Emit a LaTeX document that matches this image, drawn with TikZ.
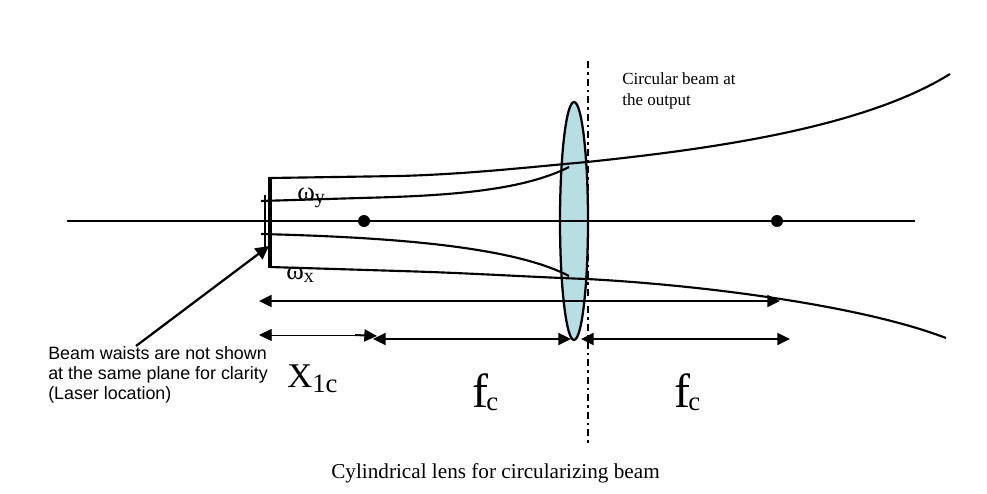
\documentclass[tikz,border=0pt]{standalone}
\usepackage{fontspec}
\setmainfont{Liberation Serif}
\newfontfamily\notefont{Liberation Sans}
\usetikzlibrary{arrows.meta,shapes.geometric}
\definecolor{lensfill}{HTML}{B7DEE3}
\tikzset{
  x=0.75pt,y=-0.75pt,
  ray/.style={line width=1.6pt,black},
  axisline/.style={line width=1.5pt,black},
  dim/.style={line width=1.5pt,{Triangle[length=9.5pt,width=9pt]}-{Triangle[length=9.5pt,width=9pt]}},
  focus/.style={circle,fill=black,inner sep=0pt,minimum size=9pt},
  lbl/.style={inner sep=0pt,anchor=base west},
  bignote/.style={lbl,font=\fontsize{36}{38}\selectfont},
  small/.style={lbl,font=\fontsize{12.75}{14}\selectfont},
  note/.style={lbl,font=\notefont\fontsize{13.4}{15}\selectfont},
  omega/.style={lbl,font=\fontsize{20}{22}\selectfont,text=black}
}
\newcommand{\lowsub}[3]{{\fontsize{#1}{#1}\selectfont\raisebox{-#2}{#3}}}
\begin{document}
\begin{tikzpicture}
\useasboundingbox (0,0) rectangle (987,493);
% axis
\coordinate (axL) at (67,221);
\coordinate (axR) at (915,221);
\draw[axisline] (axL) -- (axR);
\node[focus] (f1) at (364,221) {};
\node[focus] (f2) at (777,221) {};
% lens
\node[draw=black,fill=lensfill,line width=1.7pt,ellipse,minimum width=21pt,minimum height=178.5pt,inner sep=0pt] (lens) at (574,221) {};
\draw[axisline] (560,221) -- (588,221);
% dash-dot plane
\coordinate (pT) at (588,61);
\coordinate (pB) at (588,443);
\draw[line width=1.5pt,dash pattern=on 5.25pt off 3pt on 1.9pt off 3pt] (pT) -- (pB);
% outer beams
\draw[ray] (270,178) -- (400,176) .. controls (470,174) and (530,167) .. (587,162)
  .. controls (700,150) and (860,130) .. (950,74);
\draw[ray] (270,267) -- (400,271) .. controls (470,273) and (530,277) .. (587,279)
  .. controls (700,285) and (860,305) .. (946,338);
% inner beams
\draw[ray] (261,201) -- (360,198) .. controls (440,196) and (520,192) .. (569,167);
\draw[ray] (261,234) .. controls (380,237) and (510,245) .. (569,276);
% waists
\draw[line width=3pt] (270,177) -- (270,268);
\draw[line width=1.7pt] (265,195) -- (265,248);
% pointer
\coordinate (pS) at (136,346);
\coordinate (pE) at (269,246);
\draw[line width=1.7pt,-{Triangle[length=10pt,width=10pt]}] (pS) -- (pE);
% dimensions
\coordinate (a1) at (259,301); \coordinate (a2) at (780,301);
\draw[dim] (a1) -- (a2);
\coordinate (b1) at (259,335); \coordinate (b2) at (355,335); \coordinate (b3) at (377,336);
\draw[line width=0.6pt,{Triangle[length=9.5pt,width=9pt]}-] (b1) -- (b2);
\draw[line width=1.5pt,-{Triangle[length=9.5pt,width=9pt]}] (b2) -- (b3);
\coordinate (c1) at (373,339); \coordinate (c2) at (571,339);
\draw[dim] (c1) -- (c2);
\coordinate (d1) at (581,339); \coordinate (d2) at (790,339);
\draw[dim] (d1) -- (d2);
% labels
\node[omega] (wy) at (297,200) {ω\lowsub{15}{2.7pt}{y}};
\node[omega] (wx) at (286,279) {ω\lowsub{15}{2.7pt}{x}};
\node[small] (c1t) at (622,84) {Circular beam at};
\node[small] (c2t) at (622,105) {the output};
\node[note] (n1) at (48,359) {Beam waists are not shown};
\node[note] (n2) at (48,379) {at the same plane for clarity};
\node[note] (n3) at (48,399) {(Laser location)};
\node[lbl,font=\fontsize{26}{28}\selectfont] (x1c) at (287,387) {X\lowsub{20}{3.75pt}{1c}};
\node[bignote] (fc1) at (472,407) {f\kern-1.5pt\lowsub{20}{2.25pt}{c}};
\node[bignote] (fc2) at (674,407) {f\kern-1.5pt\lowsub{20}{2.25pt}{c}};
\node[lbl,font=\fontsize{15.9}{18}\selectfont] (cap) at (331,478) {Cylindrical lens for circularizing beam};
\end{tikzpicture}
\end{document}
